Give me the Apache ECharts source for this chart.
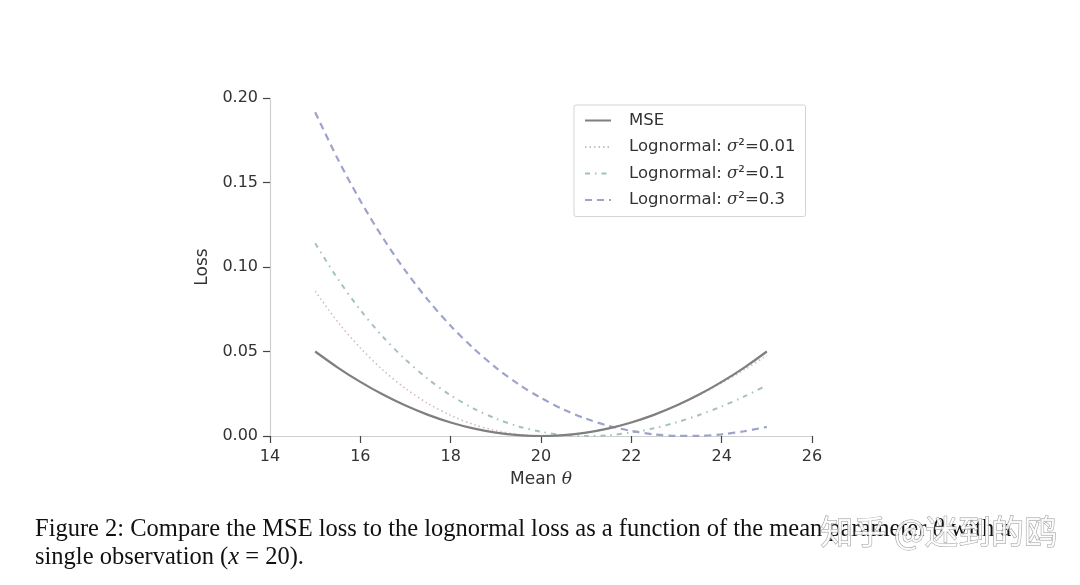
<!DOCTYPE html>
<html>
<head>
<meta charset="utf-8">
<script src="https://cdn.jsdelivr.net/npm/echarts@6/dist/echarts.min.js"></script>
<style>
  html, body { margin: 0; padding: 0; background: #fff; }
  #chart { width: 1080px; height: 585px; }
</style>
</head>
<body>
<div id="chart"></div>
<script>
// mean parameter theta (x axis)
var theta = [15, 15.5, 16, 16.5, 17, 17.5, 18, 18.5, 19, 19.5, 20,
             20.5, 21, 21.5, 22, 22.5, 23, 23.5, 24, 24.5, 25];
// losses
var mse = [0.0500, 0.0405, 0.0320, 0.0245, 0.0180, 0.0125, 0.0080, 0.0045, 0.0020, 0.0005, 0.0000,
           0.0005, 0.0020, 0.0045, 0.0080, 0.0125, 0.0180, 0.0245, 0.0320, 0.0405, 0.0500];
var logn001 = [0.0857, 0.0675, 0.0521, 0.0390, 0.0281, 0.0192, 0.0122, 0.0069, 0.0032, 0.0009, 0.0000,
               0.0004, 0.0019, 0.0045, 0.0082, 0.0127, 0.0182, 0.0244, 0.0314, 0.0392, 0.0476];
var logn01 = [0.1140, 0.0930, 0.0746, 0.0587, 0.0452, 0.0337, 0.0241, 0.0164, 0.0103, 0.0057, 0.0025,
              0.0006, 0.0000, 0.0005, 0.0021, 0.0046, 0.0081, 0.0124, 0.0175, 0.0234, 0.0300];
var logn03 = [0.1916, 0.1639, 0.1392, 0.1172, 0.0977, 0.0804, 0.0652, 0.0520, 0.0405, 0.0307, 0.0225,
              0.0157, 0.0102, 0.0060, 0.0030, 0.0010, 0.0001, 0.0001, 0.0010, 0.0028, 0.0054];
var xTicks = [14, 16, 18, 20, 22, 24, 26];
var yTicks = [0, 0.05, 0.10, 0.15, 0.20];

function pairs(ys) {
  return theta.map(function (t, i) { return [t, ys[i]]; });
}

var sans = "DejaVu Sans";
var chart = echarts.init(document.getElementById("chart"));

var legendRich = {
  s: { fontFamily: "DejaVu Serif", fontStyle: "italic", fontSize: 16.5, color: "#333" },
  t: { fontFamily: sans, fontSize: 16.5, color: "#333" }
};

var option = {
  backgroundColor: "#fff",
  animation: false,
  grid: { left: 270, right: 268, top: 98, bottom: 149 },
  legend: {
    orient: "vertical",
    left: 574,
    top: 105,
    padding: [7, 10, 8, 10],
    borderColor: "#d4d4d4",
    borderWidth: 1,
    borderRadius: 2,
    itemWidth: 26,
    itemHeight: 14,
    itemGap: 9.5,
    itemStyle: { opacity: 0 },
    textStyle: { fontFamily: sans, fontSize: 16.5, color: "#333", rich: legendRich, padding: [0, 0, 0, 13] },
    formatter: function (name) {
      if (name === "MSE") return "{t|MSE}";
      var v = name.split("=")[1];
      return "{t|Lognormal: }{s|σ}{t|²=" + v + "}";
    },
    data: ["MSE", "Lognormal: σ2=0.01", "Lognormal: σ2=0.1", "Lognormal: σ2=0.3"]
  },
  xAxis: {
    type: "value",
    min: xTicks[0],
    max: xTicks[xTicks.length - 1],
    interval: 2,
    name: "Mean {i|θ}",
    nameLocation: "middle",
    nameGap: 35,
    nameTextStyle: {
      fontFamily: sans, fontSize: 17, color: "#333",
      rich: { i: { fontFamily: "DejaVu Serif", fontStyle: "italic", fontSize: 17, color: "#333" } }
    },
    axisLine: { lineStyle: { color: "#cfcfcf", width: 1.2 } },
    axisTick: { show: true, length: 7, lineStyle: { color: "#444", width: 1.2 } },
    axisLabel: { fontFamily: sans, fontSize: 16, color: "#333", margin: 13 },
    splitLine: { show: false }
  },
  yAxis: {
    type: "value",
    min: yTicks[0],
    max: yTicks[yTicks.length - 1],
    interval: 0.05,
    name: "Loss",
    nameLocation: "middle",
    nameRotate: 90,
    nameGap: 51,
    nameTextStyle: { fontFamily: sans, fontSize: 17, color: "#333" },
    axisLine: { show: true, lineStyle: { color: "#cfcfcf", width: 1.2 } },
    axisTick: { show: true, length: 7, lineStyle: { color: "#444", width: 1.2 } },
    axisLabel: {
      fontFamily: sans, fontSize: 16, color: "#333", margin: 12,
      formatter: function (v) { return v.toFixed(2); }
    },
    splitLine: { show: false }
  },
  series: [
    {
      name: "MSE", type: "line", data: pairs(mse), showSymbol: false, symbol: "none", smooth: 0.3,
      lineStyle: { color: "#7f7f7f", width: 2.2 }, itemStyle: { color: "#7f7f7f" }, z: 5
    },
    {
      name: "Lognormal: σ2=0.01", type: "line", data: pairs(logn001), showSymbol: false, symbol: "none", smooth: 0.3,
      lineStyle: { color: "#d2b9c8", width: 1.6, type: [1.5, 3] }, itemStyle: { color: "#d2b9c8" }
    },
    {
      name: "Lognormal: σ2=0.1", type: "line", data: pairs(logn01), showSymbol: false, symbol: "none", smooth: 0.3,
      lineStyle: { color: "#a5c0c4", width: 2, type: [5, 5, 1.5, 5] }, itemStyle: { color: "#a5c0c4" }
    },
    {
      name: "Lognormal: σ2=0.3", type: "line", data: pairs(logn03), showSymbol: false, symbol: "none", smooth: 0.3,
      lineStyle: { color: "#9ea3cb", width: 2.2, type: [7, 5] }, itemStyle: { color: "#9ea3cb" }
    }
  ],
  graphic: [
    {
      type: "text", left: 35, top: 517,
      style: {
        text: "{r|Figure 2: Compare the MSE loss to the lognormal loss as a function of the mean parameter }{i|θ}{r| with a}",
        rich: {
          r: { fontFamily: "Liberation Serif", fontSize: 24.5, fill: "#111" },
          i: { fontFamily: "Liberation Serif", fontStyle: "italic", fontSize: 24.5, fill: "#111" }
        }
      }
    },
    {
      type: "text", left: 35, top: 545,
      style: {
        text: "{r|single observation (}{i|x}{r| = 20).}",
        rich: {
          r: { fontFamily: "Liberation Serif", fontSize: 24.5, fill: "#111" },
          i: { fontFamily: "Liberation Serif", fontStyle: "italic", fontSize: 24.5, fill: "#111" }
        }
      }
    },
    {
      type: "text", left: 820, top: 514, z: 10,
      style: {
        text: "知乎 @迷到的鸥",
        fontFamily: "Noto Sans CJK SC", fontSize: 33,
        fill: "rgba(255,255,255,0.85)", stroke: "#9a9a9a", lineWidth: 1
      }
    }
  ]
};

chart.setOption(option);
</script>
</body>
</html>
